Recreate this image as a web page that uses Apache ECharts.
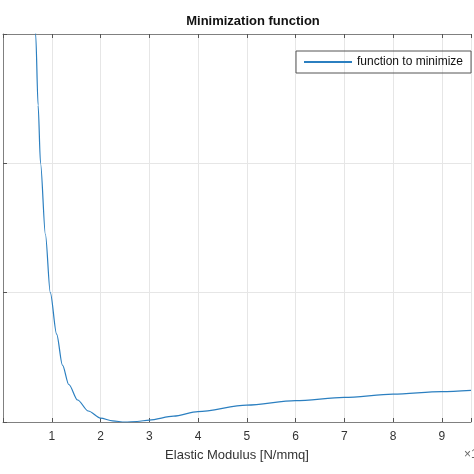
<!DOCTYPE html><html><head><meta charset="utf-8"><script src="https://cdn.jsdelivr.net/npm/echarts@6/dist/echarts.min.js"></script>
<style>html,body{margin:0;padding:0;background:#fff}#c{width:474px;height:474px}</style></head><body><div id="c"></div><script>
const xVals=[0.64,0.67,0.72,0.77,0.87,0.97,1.1,1.22,1.35,1.53,1.75,2.0,2.25,2.5,2.75,3.0,3.5,4,5,6,7,8,9,9.6];
const yVals=[3.3,3.0,2.45,2.0,1.45,1.0,0.68,0.44,0.29,0.17,0.085,0.03,0.008,0,0.004,0.015,0.045,0.08,0.13,0.165,0.19,0.215,0.235,0.245];
const xTicks=[1,2,3,4,5,6,7,8,9];
const chart=echarts.init(document.getElementById('c'));
const F='Liberation Sans, Arial, sans-serif';
const ax={min:0,max:9.6,interval:1,axisLine:{lineStyle:{color:'#808080'}},axisTick:{inside:true,length:4,lineStyle:{color:'#555'}}};
chart.setOption({
 animation:false,
 title:{text:'Minimization function',left:248,textAlign:'center',top:10,textStyle:{fontFamily:F,fontSize:13,fontWeight:'bold',color:'#111'}},
 grid:{left:3,top:34,right:0,bottom:52},
 legend:{left:296,top:51,itemWidth:48,itemHeight:2,itemGap:6,padding:[5,8,5,8],borderColor:'#555',borderWidth:1,borderRadius:0,textStyle:{fontFamily:F,fontSize:12,color:'#111'},icon:'rect'},
 xAxis:[Object.assign({},ax,{type:'value',position:'bottom',name:'Elastic Modulus [N/mmq]',nameLocation:'middle',nameGap:27,nameTextStyle:{fontFamily:F,fontSize:13,color:'#333'},
   axisLabel:{fontFamily:F,fontSize:12,color:'#333',margin:9,formatter:v=>xTicks.includes(v)?String(v):''},
   splitLine:{show:true,lineStyle:{color:'#e6e6e6'}}}),
  Object.assign({},ax,{type:'value',position:'top',axisLabel:{show:false},splitLine:{show:false}})],
 yAxis:{type:'value',min:0,max:3,interval:1,axisLabel:{show:false},axisLine:{show:true,lineStyle:{color:'#808080'}},axisTick:{show:true,inside:true,length:4,lineStyle:{color:'#555'}},splitLine:{lineStyle:{color:'#e6e6e6'}}},
 graphic:[{type:'text',left:464,top:449,style:{text:'×10⁵',font:'12px '+F,fill:'#666'}}],
 series:[{name:'function to minimize',type:'line',smooth:0.3,smoothMonotone:'x',showSymbol:false,clip:true,color:'#2b7fc0',lineStyle:{width:1.2},data:xVals.map((x,i)=>[x,yVals[i]])}]
});
</script></body></html>
